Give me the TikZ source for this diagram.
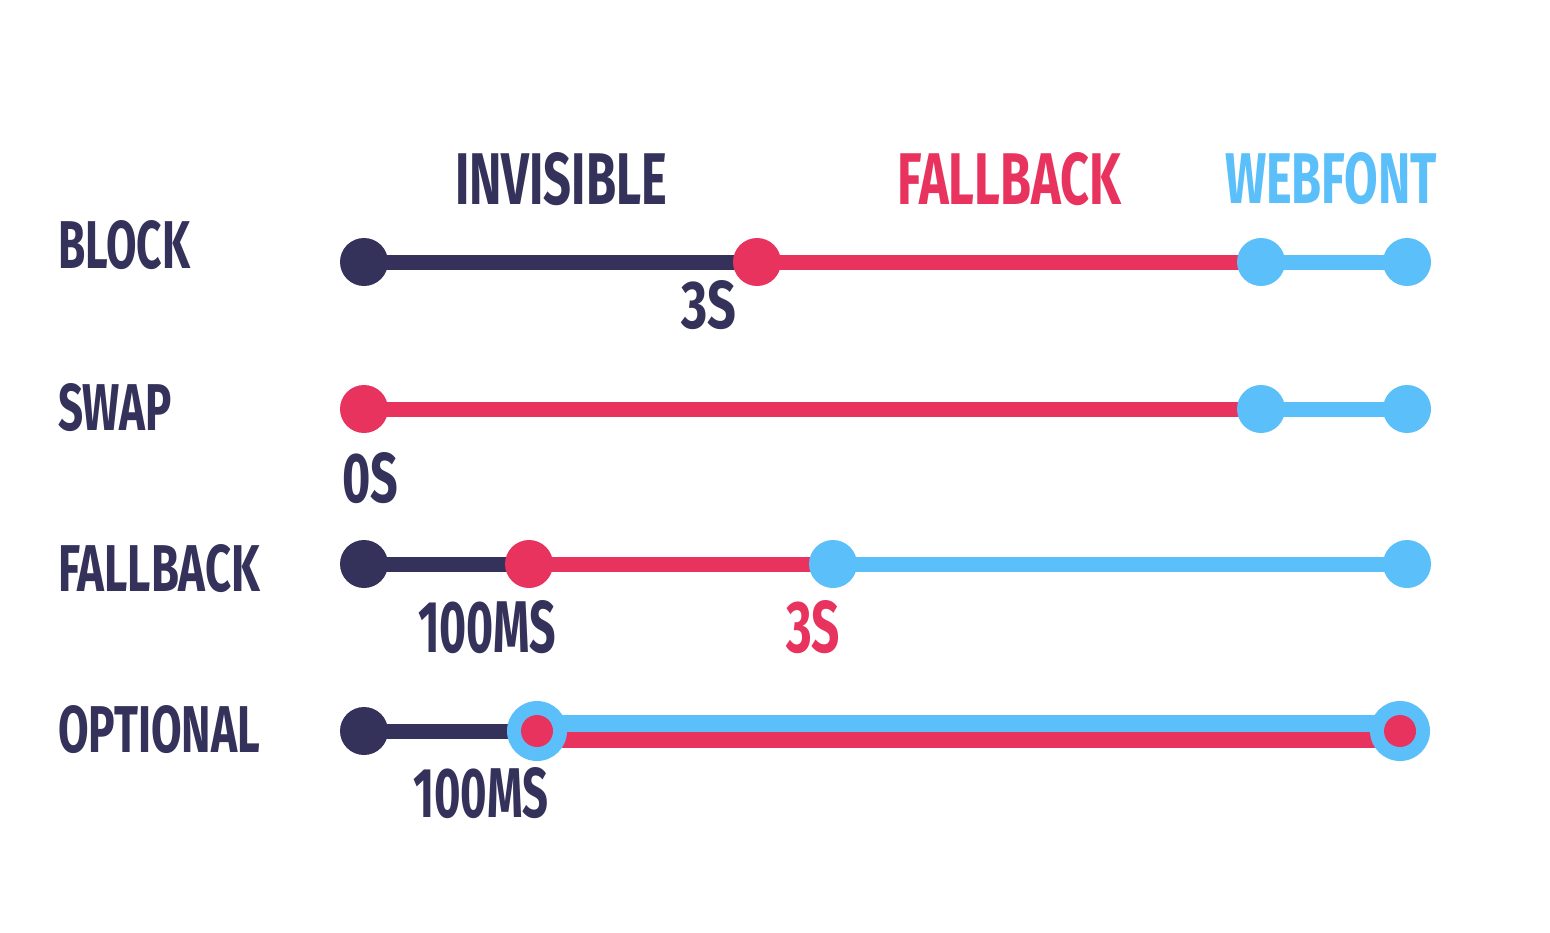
\documentclass[tikz,border=0pt]{standalone}
\usepackage{fontspec}
\usepackage{graphicx}
\newfontfamily\labfont{Fira Sans}
\usetikzlibrary{backgrounds}
\definecolor{navy}{RGB}{52,50,90}
\definecolor{fred}{RGB}{233,51,95}
\definecolor{fblue}{RGB}{91,191,249}
\newcommand\fitlbl[3]{\resizebox{#1pt}{#2pt}{\labfont\bfseries #3}}
\tikzset{
  lbl/.style={anchor=north west,inner sep=0pt,outer sep=0pt},
  dot/.style={circle,fill=#1,minimum size=24pt,inner sep=0pt},
  ring/.style={circle,fill=fblue,minimum size=30pt,inner sep=0pt},
  core/.style={circle,fill=fred,minimum size=16pt,inner sep=0pt},
  bar/.style={line width=7.5pt,draw=#1},
}
\begin{document}
\begin{tikzpicture}[x=0.5pt,y=-0.5pt]
\useasboundingbox (0,0) rectangle (1550,932);
% headers
\node[lbl,text=navy] (hinv) at (455,152) {\fitlbl{106}{26}{INVISIBLE}};
\node[lbl,text=fred] (hfb) at (897,152) {\fitlbl{112}{26}{FALLBACK}};
\node[lbl,text=fblue] (hweb) at (1225,152) {\fitlbl{106}{25.5}{WEBFONT}};
% row labels
\node[lbl,text=navy] (lblock) at (58,220) {\fitlbl{66}{24}{BLOCK}};
\node[lbl,text=navy] (lswap) at (58,383) {\fitlbl{57}{23.5}{SWAP}};
\node[lbl,text=navy] (lfb) at (58,544) {\fitlbl{101}{23.5}{FALLBACK}};
\node[lbl,text=navy] (lopt) at (58,705) {\fitlbl{101}{23.5}{OPTIONAL}};
% time labels
\node[lbl,text=navy] (t1) at (681,280) {\fitlbl{27.5}{24}{3S}};
\node[lbl,text=navy] (t2) at (342,452) {\fitlbl{28}{25}{0S}};
\node[lbl,text=navy] (t3a) at (418,600) {\fitlbl{69}{26}{100MS}};
\node[lbl,text=fred] (t3b) at (786,600) {\fitlbl{27}{26}{3S}};
\node[lbl,text=navy] (t4) at (413,767) {\fitlbl{67.5}{25}{100MS}};
% row 1: block
\node[dot=navy] (a1) at (364,262) {};
\node[dot=fred] (a2) at (757,262) {};
\node[dot=fblue] (a3) at (1261,262) {};
\node[dot=fblue] (a4) at (1407,262) {};
% row 2: swap
\node[dot=fred] (b1) at (364,409) {};
\node[dot=fblue] (b2) at (1261,409) {};
\node[dot=fblue] (b3) at (1407,409) {};
% row 3: fallback
\node[dot=navy] (c1) at (364,564) {};
\node[dot=fred] (c2) at (529,564) {};
\node[dot=fblue] (c3) at (833,564) {};
\node[dot=fblue] (c4) at (1407,564) {};
% row 4: optional
\node[dot=navy] (d1) at (364,731) {};
\node[ring] (d2) at (537,731) {};
\node[core] (d2c) at (537,731) {};
\node[ring] (d3) at (1400,731) {};
\node[core] (d3c) at (1400,731) {};
\begin{pgfonlayer}{background}
\fill[white] (0,0) rectangle (1550,932);
\draw[bar=navy] (a1.center) -- (a2.center);
\draw[bar=fred] (a2.center) -- (a3.center);
\draw[bar=fblue] (a3.center) -- (a4.center);
\draw[bar=fred] (b1.center) -- (b2.center);
\draw[bar=fblue] (b2.center) -- (b3.center);
\draw[bar=navy] (c1.center) -- (c2.center);
\draw[bar=fred] (c2.center) -- (c3.center);
\draw[bar=fblue] (c3.center) -- (c4.center);
\draw[bar=navy] (d1.center) -- (d2.center);
\draw[line width=8.5pt,draw=fblue] ([yshift=4pt]d2.center) -- ([yshift=4pt]d3.center);
\draw[line width=8pt,draw=fred] ([yshift=-4.5pt]d2.center) -- ([yshift=-4.5pt]d3.center);
\end{pgfonlayer}
\end{tikzpicture}
\end{document}
